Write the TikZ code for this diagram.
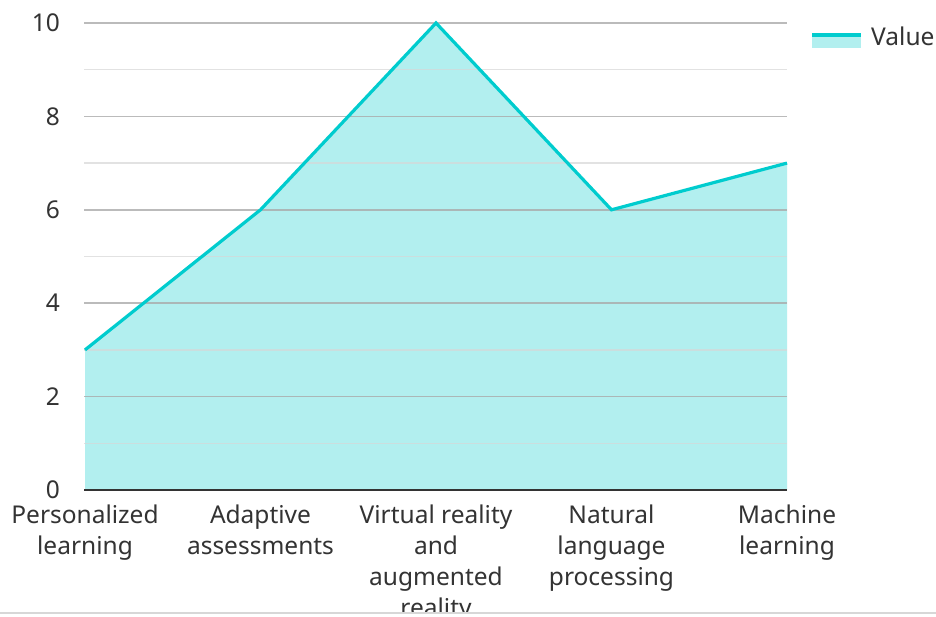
\documentclass[tikz,border=0pt]{standalone}
\usepackage{fontspec}
\setmainfont{Noto Sans}
\definecolor{linec}{RGB}{0,204,206}
\definecolor{fillc}{RGB}{178,239,239}
\definecolor{txt}{RGB}{51,51,51}
\definecolor{majg}{RGB}{170,170,170}
\definecolor{ming}{RGB}{215,215,215}
\begin{document}
\begin{tikzpicture}[x=1pt,y=-1pt,
  lbl/.style={font=\fontsize{24.5}{31}\selectfont, text=txt, align=center, anchor=north, inner sep=0pt},
  ytick/.style={font=\fontsize{24.5}{28}\selectfont, text=txt, anchor=east, inner sep=0pt},
  major/.style={majg, line width=1.5pt, opacity=0.8},
  minor/.style={ming, line width=1.5pt, opacity=0.7}]
\useasboundingbox[fill=white] (0,0) rectangle (936,617);
% data points
\coordinate (p1) at (85,{490-46.7*3});
\coordinate (p2) at (260.5,{490-46.7*6});
\coordinate (p3) at (436,{490-46.7*10});
\coordinate (p4) at (611.5,{490-46.7*6});
\coordinate (p5) at (787,{490-46.7*7});
\coordinate (b1) at (85,490);
\coordinate (b5) at (787,490);
% area fill
\fill[fillc] (b1) -- (p1) -- (p2) -- (p3) -- (p4) -- (p5) -- (b5) -- cycle;
% grid
\foreach \v in {1,3,5,7,9} \draw[minor] (84,{490-46.7*\v}) -- (787,{490-46.7*\v});
\foreach \v in {2,4,6,8,10} \draw[major] (84,{490-46.7*\v}) -- (787,{490-46.7*\v});
% line
\draw[linec, line width=3.2pt, line join=miter] (p1) -- (p2) -- (p3) -- (p4) -- (p5);
% axis
\draw[txt, line width=2.2pt] (84,490) -- (787,490);
% y labels
\foreach \v in {0,2,4,6,8,10} \node[ytick] (y\v) at (60,{490-46.7*\v}) {\v};
% x labels
\begin{scope}
\clip (0,0) rectangle (936,612);
\node[lbl] (c1) at (85,505) {Personalized\\learning};
\node[lbl] (c2) at (260.5,505) {Adaptive\\assessments};
\node[lbl] (c3) at (436,505) {Virtual reality\\and\\augmented\\reality};
\node[lbl] (c4) at (611.5,505) {Natural\\language\\processing};
\node[lbl] (c5) at (787,505) {Machine\\learning};
\end{scope}
% bottom rule
\draw[ming, line width=1.6pt] (0,613) -- (936,613);
% legend
\fill[fillc] (812,34) rectangle (861,48);
\draw[linec, line width=3.2pt] (812,35) -- (861,35);
\node[font=\fontsize{24.5}{28}\selectfont, text=txt, anchor=west, inner sep=0pt] (leg) at (871,36) {Value};
\end{tikzpicture}
\end{document}
